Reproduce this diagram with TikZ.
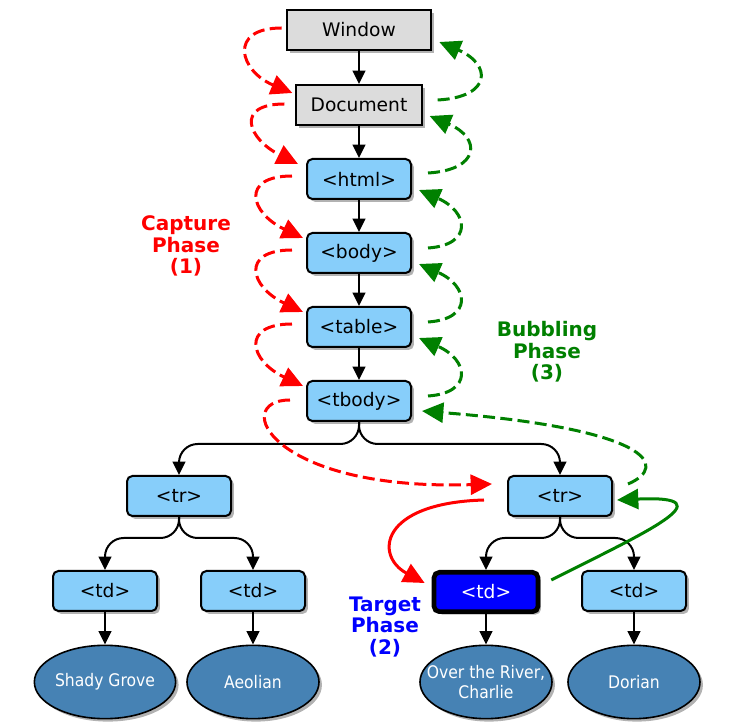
\documentclass[tikz,border=0pt]{standalone}
\usepackage{fontspec}
\setmainfont{DejaVu Sans}
\newfontfamily\condfont{DejaVu Sans Condensed}
\newfontfamily\boxfont{DejaVu Sans}
\usetikzlibrary{arrows.meta,shadows,calc,shapes.geometric}
\definecolor{boxblue}{HTML}{87CEFA}
\definecolor{boxgray}{HTML}{DCDCDC}
\definecolor{leafblue}{HTML}{4682B4}
\definecolor{bubgreen}{HTML}{008000}
\begin{document}
\begin{tikzpicture}[x=0.75pt,y=-0.75pt,
  shadowed/.style={drop shadow={shadow xshift=2.2pt,shadow yshift=-2.2pt,opacity=0.3,fill=black}},
  graybox/.style={draw=black,line width=1.5pt,fill=boxgray,minimum height=29.5pt,inner sep=0pt,font=\boxfont\fontsize{14}{16}\selectfont,shadowed},
  bluebox/.style={draw=black,line width=1.5pt,fill=boxblue,rounded corners=4pt,minimum width=78pt,minimum height=30pt,inner sep=0pt,font=\boxfont\fontsize{14}{16}\selectfont,shadowed},
  targetbox/.style={bluebox,fill=blue,text=white,line width=3.5pt,minimum width=78pt,minimum height=29.5pt},
  leaf/.style={ellipse,draw=black,line width=1.2pt,fill=leafblue,text=white,minimum width=99pt,minimum height=55pt,inner sep=0pt,align=center,font=\condfont\fontsize{13}{15}\selectfont,shadowed},
  tree/.style={draw=black,line width=1.5pt,-{Triangle[length=10pt,width=9.5pt]}},
  treebranch/.style={tree,rounded corners=14pt},
  bigtip/.style={-{Triangle[length=16pt,width=15pt]}},
  capt/.style={draw=red,line width=2.25pt,dash pattern=on 9pt off 4pt,bigtip},
  captsolid/.style={draw=red,line width=2.25pt,bigtip},
  bubb/.style={draw=bubgreen,line width=2.25pt,dash pattern=on 9pt off 4pt,bigtip},
  bubbsolid/.style={draw=bubgreen,line width=2.25pt,bigtip},
  phase/.style={align=center,font=\fontsize{15}{16}\selectfont\bfseries,inner sep=0pt}
]
\fill[white] (0,0) rectangle (751,727);
\useasboundingbox (0,0) rectangle (751,727);

% stack
\node[graybox,minimum width=108.5pt] (Window) at (359,30) {Window};
\node[graybox,minimum width=94pt,minimum height=30pt] (Document) at (359,105) {Document};
\node[bluebox] (html) at (359,179) {<html>};
\node[bluebox] (body) at (359,253) {<body>};
\node[bluebox] (table) at (359,327) {<table>};
\node[bluebox] (tbody) at (359,401) {<tbody>};
\node[bluebox] (trL) at (179,496) {<tr>};
\node[bluebox] (trR) at (560,496) {<tr>};
\node[bluebox] (td1) at (105,591) {<td>};
\node[bluebox] (td2) at (253,591) {<td>};
\node[targetbox] (tdT) at (486,592) {<td>};
\node[bluebox] (td4) at (634,591) {<td>};
\node[leaf] (e1) at (105,682) {Shady Grove};
\node[leaf] (e2) at (253,682) {Aeolian};
\node[leaf,inner xsep=-14pt] (e3) at (486,682) {Over the River,\\Charlie};
\node[leaf] (e4) at (634,682) {Dorian};

% labels
\node[phase,text=red] (capture) at (186,246) {Capture\\Phase\\(1)};
\node[phase,text=bubgreen] (bubbling) at (547,352) {Bubbling\\Phase\\(3)};
\node[phase,text=blue] (target) at (385,627) {Target\\Phase\\(2)};

% tree connectors
\draw[tree] (Window) -- (Document);
\draw[tree] (Document) -- (html);
\draw[tree] (html) -- (body);
\draw[tree] (body) -- (table);
\draw[tree] (table) -- (tbody);
\draw[treebranch] (tbody.south) -- ++(0,22) -| (trL.north);
\draw[treebranch] (tbody.south) -- ++(0,22) -| (trR.north);
\draw[treebranch] (trL.south) -- ++(0,21) -| (td1.north);
\draw[treebranch] (trL.south) -- ++(0,21) -| (td2.north);
\draw[treebranch] (trR.south) -- ++(0,21) -| (tdT.north);
\draw[treebranch] (trR.south) -- ++(0,21) -| (td4.north);
\draw[tree] (td1) -- (e1);
\draw[tree] (td2) -- (e2);
\draw[tree] (tdT) -- (e3);
\draw[tree] (td4) -- (e4);

% capture phase
\draw[capt] ($(Window.west)+(-4,-2)$) .. controls +(-54,0) and +(-53,-22) .. ($(Document.west)+(-3,-12)$);
\draw[capt] ($(Document.west)+(-11,-1)$) .. controls +(-50,0) and +(-50,-25) .. ($(html.west)+(-8,-15)$);
\draw[capt] ($(html.west)+(-14,-3)$) .. controls +(-52,0) and +(-53,-25) .. ($(body.west)+(-3,-15)$);
\draw[capt] ($(body.west)+(-14,-3)$) .. controls +(-52,0) and +(-53,-25) .. ($(table.west)+(-3,-15)$);
\draw[capt] ($(table.west)+(-14,-3)$) .. controls +(-52,0) and +(-53,-25) .. ($(tbody.west)+(-3,-15)$);
\draw[capt] ($(tbody.west)+(-16,-1)$) .. controls +(-60,0) and +(-223,7) .. ($(trR.west)+(-15,-12)$);
\draw[captsolid] ($(trR.west)+(-23,4)$) .. controls +(-105,3) and +(-50,-27) .. ($(tdT.west)+(-7,-9)$);

% bubbling phase
\draw[bubbsolid] ($(tdT.east)+(11,-12)$) .. controls +(95,-48) and +(112,-5) .. ($(trR.east)+(4,4)$);
\draw[bubb] ($(trR.east)+(15,-12)$) .. controls +(42,-18) and +(228,18) .. ($(tbody.east)+(10,10)$);
\draw[bubb] ($(tbody.east)+(16,-5)$) .. controls +(45,-3) and +(50,22) .. ($(table.east)+(7,11)$);
\draw[bubb] ($(table.east)+(16,-5)$) .. controls +(45,-3) and +(50,22) .. ($(body.east)+(7,11)$);
\draw[bubb] ($(body.east)+(16,-5)$) .. controls +(45,-3) and +(50,22) .. ($(html.east)+(7,11)$);
\draw[bubb] ($(html.east)+(16,-6)$) .. controls +(52,-3) and +(52,22) .. ($(Document.east)+(7,11)$);
\draw[bubb] ($(Document.east)+(15,-5)$) .. controls +(55,-3) and +(52,22) .. ($(Window.east)+(7,12)$);
\end{tikzpicture}
\end{document}
